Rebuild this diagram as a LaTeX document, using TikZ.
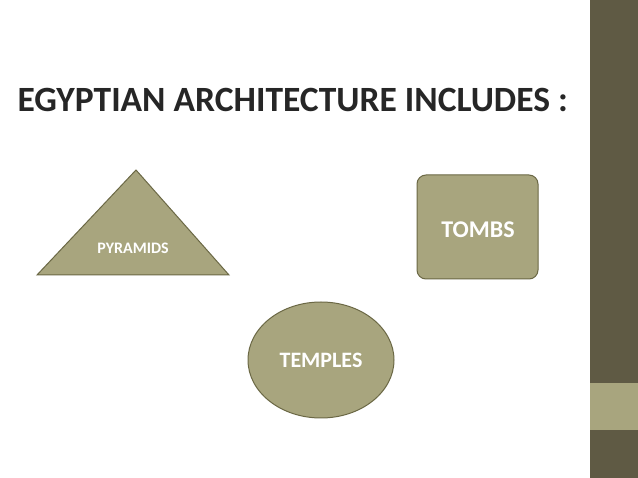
\documentclass[tikz,border=0pt]{standalone}
\usepackage{fontspec}
\setmainfont{Carlito}
\usetikzlibrary{shapes.geometric}
\definecolor{olive}{HTML}{A8A57E}
\definecolor{oliveedge}{HTML}{6B6845}
\definecolor{bar}{HTML}{5F5A44}
\definecolor{titlec}{HTML}{262626}
\tikzset{shapefill/.style={fill=olive,draw=oliveedge,line width=1pt},
 lbl/.style={text=white,font=\bfseries}}
\begin{document}
\begin{tikzpicture}[x=1pt,y=-1pt]
\useasboundingbox (0,0) rectangle (638,478);
\fill[white] (0,0) rectangle (590,478);
\fill[bar] (590,0) rectangle (638,478);
\fill[olive] (590,383) rectangle (638,430);
\node[anchor=west,text=titlec,font=\bfseries\fontsize{35.5}{40}\selectfont] (title) at (14,100) {EGYPTIAN ARCHITECTURE INCLUDES :};
\draw[shapefill] (136,170) -- (229,275) -- (37,275) -- cycle;
\node[lbl,font=\bfseries\fontsize{16}{19}\selectfont] (pyr) at (133,248) {PYRAMIDS};
\node[shapefill,rounded corners=9pt,minimum width=121pt,minimum height=104pt] (tombs) at (477.5,227) {};
\node[lbl,font=\bfseries\fontsize{24}{28}\selectfont] at (478,230) {TOMBS};
\node[shapefill,ellipse,minimum width=146pt,minimum height=116pt] (temples) at (321,360) {};
\node[lbl,font=\bfseries\fontsize{22}{26}\selectfont] at (321,360) {TEMPLES};
\end{tikzpicture}
\end{document}
